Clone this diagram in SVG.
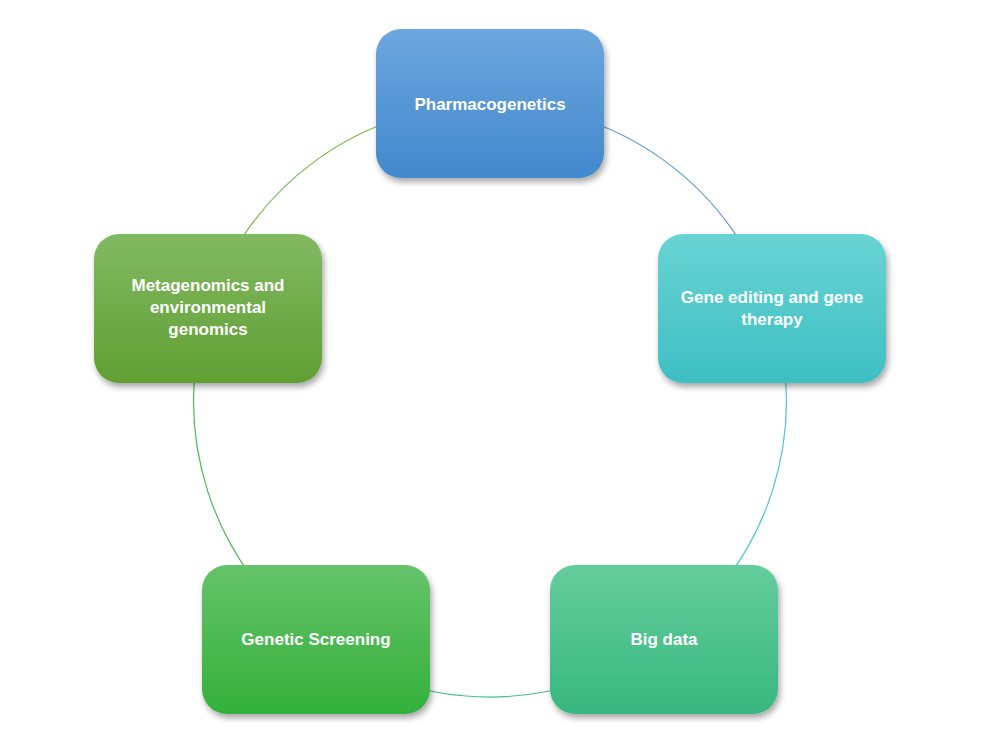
<svg xmlns="http://www.w3.org/2000/svg" width="981" height="751" viewBox="0 0 981 751">
<defs>
<style>
.lbl{font-family:"Liberation Sans",Arial,sans-serif;font-weight:bold;font-size:17px;fill:#ffffff;text-anchor:middle}
.arc{fill:none;stroke-width:1.2}
.box{filter:url(#sh)}
</style>
<filter id="sh" x="-10%" y="-10%" width="125%" height="130%">
<feDropShadow dx="2" dy="4" stdDeviation="3" flood-color="#000" flood-opacity="0.35"/>
</filter>
<linearGradient id="g1" x1="0" y1="0" x2="0" y2="1"><stop offset="0" stop-color="#6da6de"/><stop offset="1" stop-color="#4288cd"/></linearGradient>
<linearGradient id="g2" x1="0" y1="0" x2="0" y2="1"><stop offset="0" stop-color="#69d3d3"/><stop offset="1" stop-color="#3dbfc4"/></linearGradient>
<linearGradient id="g3" x1="0" y1="0" x2="0" y2="1"><stop offset="0" stop-color="#64cd9b"/><stop offset="1" stop-color="#38b77e"/></linearGradient>
<linearGradient id="g4" x1="0" y1="0" x2="0" y2="1"><stop offset="0" stop-color="#66c36a"/><stop offset="1" stop-color="#33b03a"/></linearGradient>
<linearGradient id="g5" x1="0" y1="0" x2="0" y2="1"><stop offset="0" stop-color="#82b962"/><stop offset="1" stop-color="#5f9f33"/></linearGradient>
</defs>
<rect width="981" height="751" fill="#ffffff"/>
<g id="connectors">
<path class="arc" stroke="#5b9bd5" d="M490 104 A296.5 296.5 0 0 1 772 308.9"/>
<path class="arc" stroke="#4bc7cc" d="M772 308.9 A296.5 296.5 0 0 1 664.3 640.4"/>
<path class="arc" stroke="#46c08a" d="M664.3 640.4 A296.5 296.5 0 0 1 315.7 640.4"/>
<path class="arc" stroke="#4cb853" d="M315.7 640.4 A296.5 296.5 0 0 1 208 308.9"/>
<path class="arc" stroke="#74b852" d="M208 308.9 A296.5 296.5 0 0 1 490 104"/>
</g>
<g id="n1">
<rect class="box" x="376" y="29" width="228" height="149" rx="25" fill="url(#g1)"/>
<text class="lbl" x="490" y="110">Pharmacogenetics</text>
</g>
<g id="n2">
<rect class="box" x="658" y="234" width="228" height="149" rx="25" fill="url(#g2)"/>
<text class="lbl" x="772" y="303">Gene editing and gene</text>
<text class="lbl" x="772" y="325">therapy</text>
</g>
<g id="n3">
<rect class="box" x="550" y="565" width="228" height="149" rx="25" fill="url(#g3)"/>
<text class="lbl" x="664" y="645">Big data</text>
</g>
<g id="n4">
<rect class="box" x="202" y="565" width="228" height="149" rx="25" fill="url(#g4)"/>
<text class="lbl" x="316" y="645">Genetic Screening</text>
</g>
<g id="n5">
<rect class="box" x="94" y="234" width="228" height="149" rx="25" fill="url(#g5)"/>
<text class="lbl" x="208" y="291">Metagenomics and</text>
<text class="lbl" x="208" y="313">environmental</text>
<text class="lbl" x="208" y="335">genomics</text>
</g>
</svg>
